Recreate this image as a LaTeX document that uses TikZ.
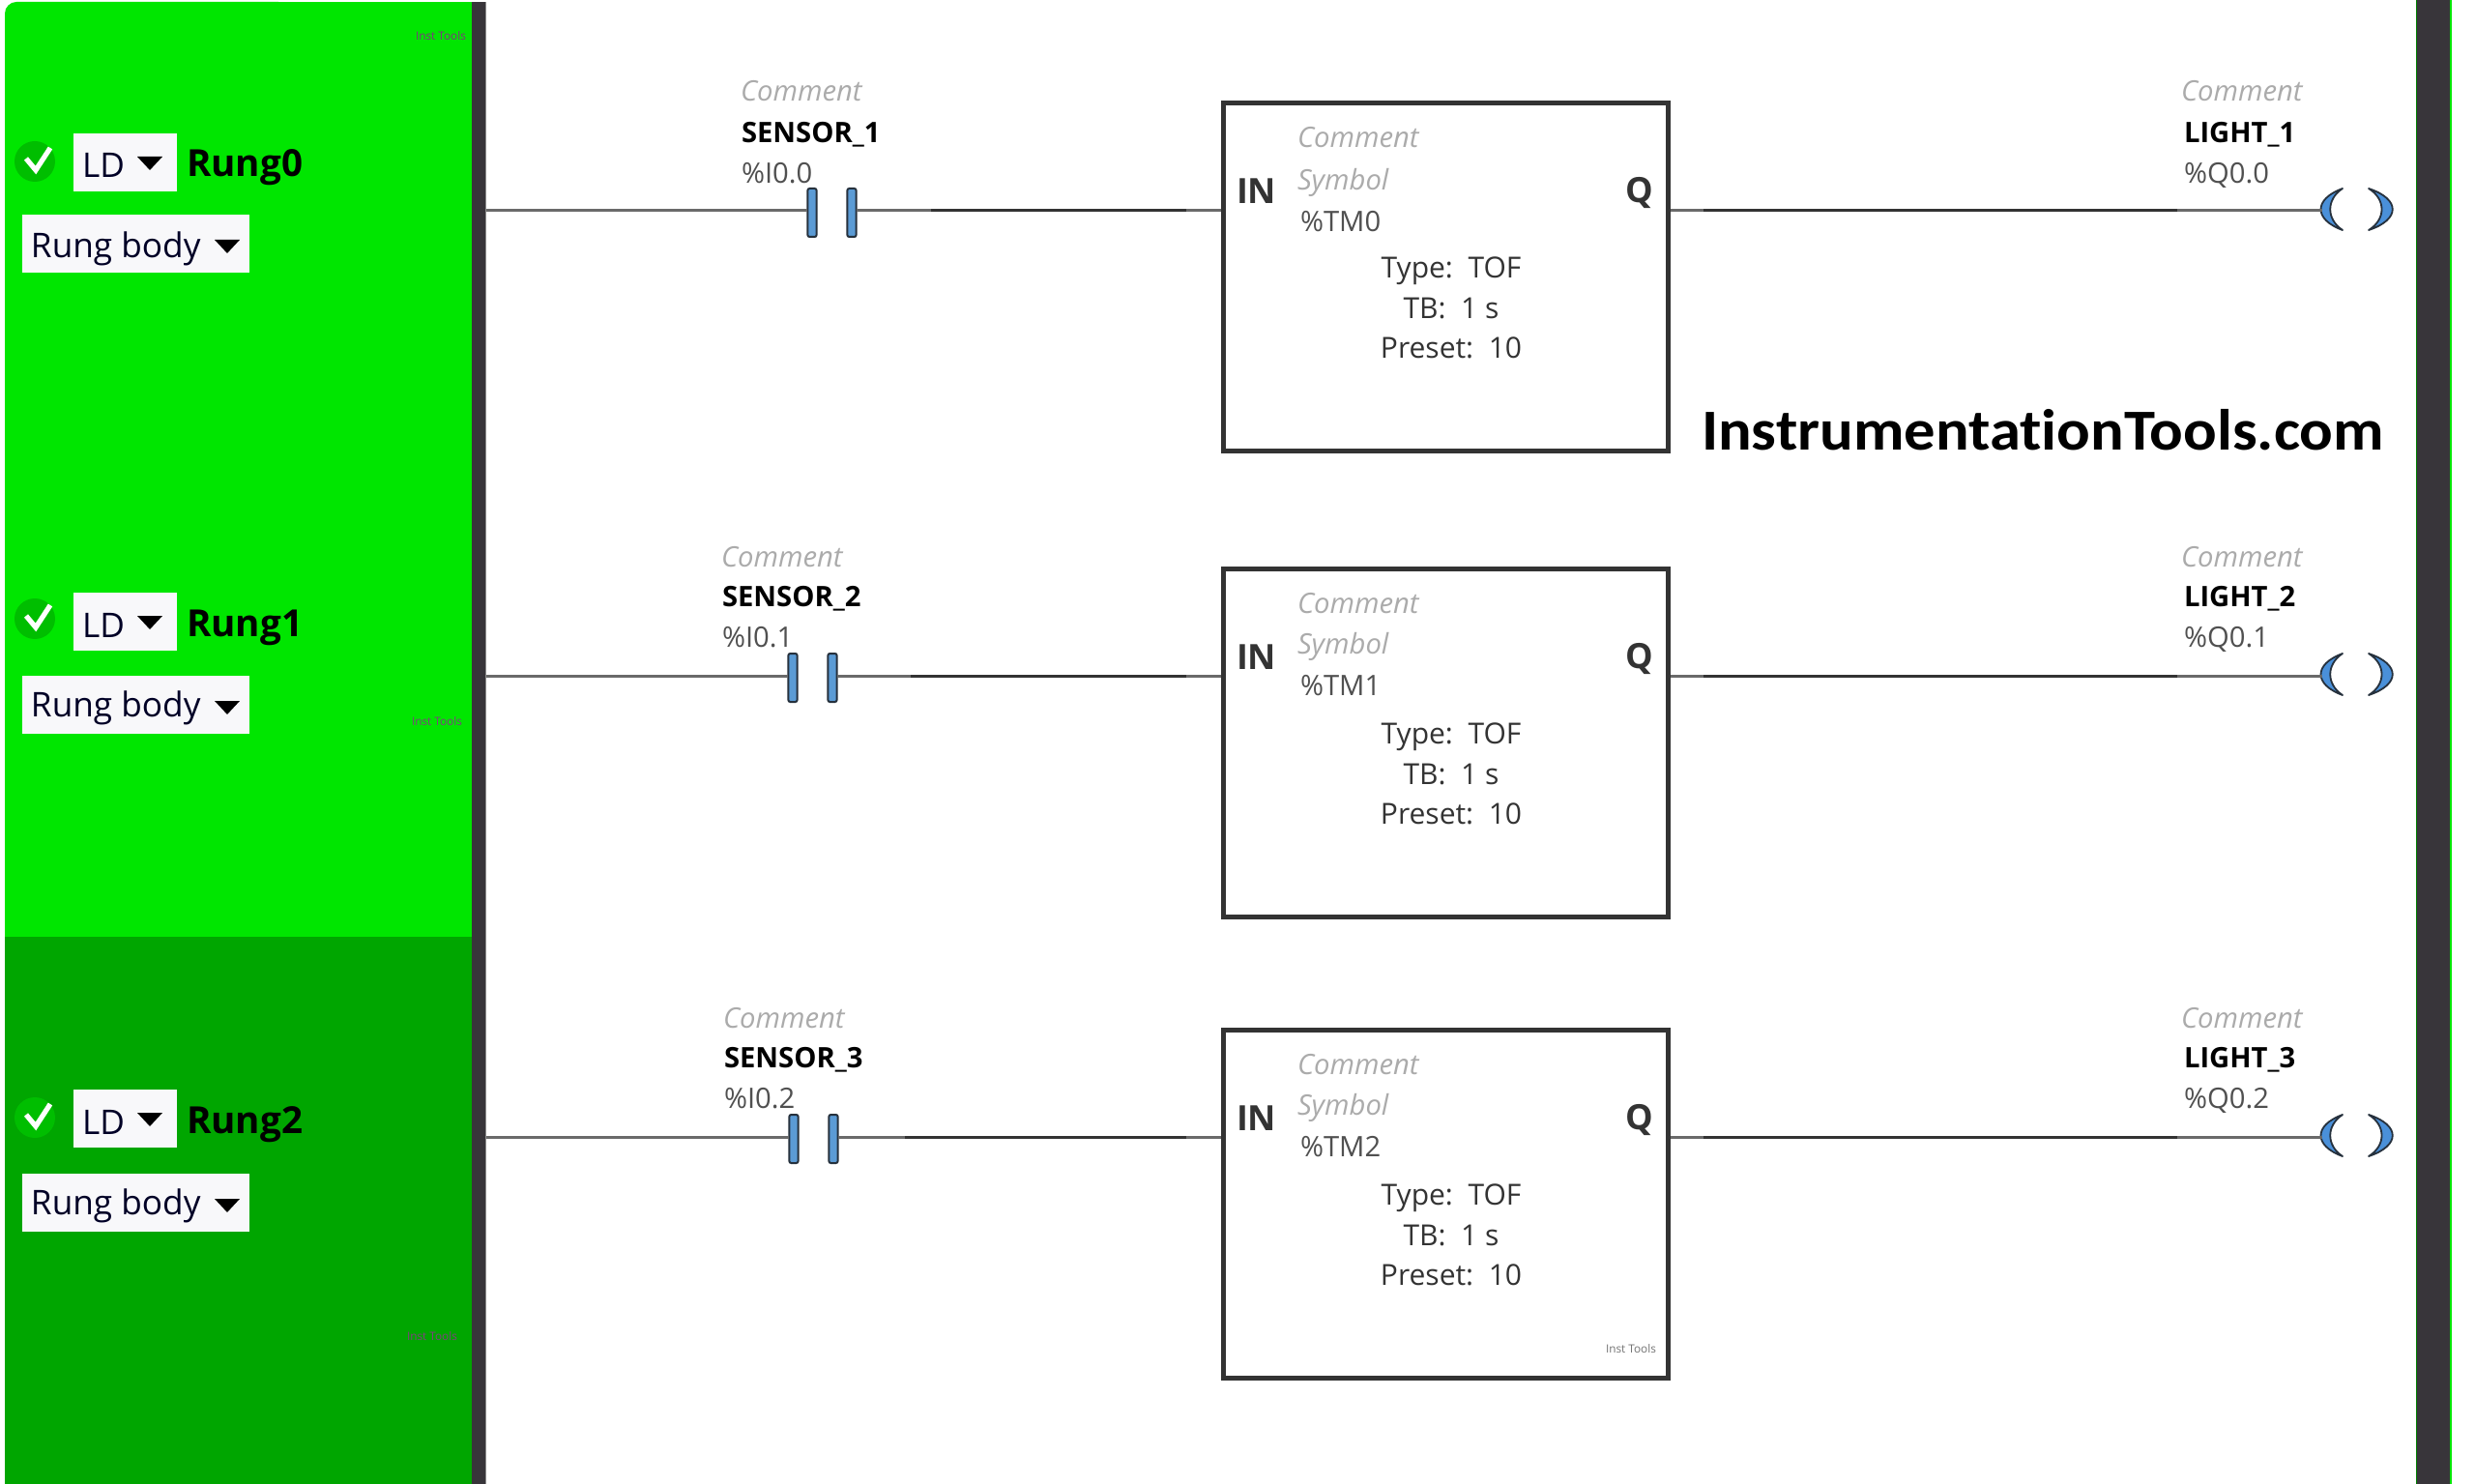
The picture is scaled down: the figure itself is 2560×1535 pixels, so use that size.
\documentclass[tikz,border=0pt]{standalone}
\usepackage{fontspec}
\setmainfont{Open Sans}
\newfontfamily\wmfont[FakeStretch=1.077,Ligatures=NoCommon,BoldFont={Carlito Bold}]{Carlito}
\definecolor{railc}{HTML}{38353A}
\definecolor{glight}{HTML}{00E600}
\definecolor{gdark}{HTML}{00A600}
\definecolor{chk}{HTML}{00BE00}
\definecolor{wirel}{HTML}{6A6A6A}
\definecolor{wired}{HTML}{333333}
\definecolor{contactb}{HTML}{5B9BD5}
\definecolor{coilb}{HTML}{4A90D9}
\definecolor{edgec}{HTML}{26313D}
\definecolor{cmt}{HTML}{ABABAB}
\definecolor{addr}{HTML}{505050}
\definecolor{ddw}{HTML}{F8F8FA}
\newcommand{\fsz}[1]{\fontsize{#1}{#1}\selectfont}
\tikzset{
  x=0.5pt,y=-0.5pt,
  lbl/.style={inner sep=0pt,outer sep=0pt,anchor=base west},
  cmtx/.style={lbl,text=cmt,font=\fsz{14.6}\itshape},
  namex/.style={lbl,text=black,font=\fsz{14.6}\bfseries},
  addrx/.style={lbl,text=addr,font=\fsz{14.6}},
  param/.style={inner sep=0pt,outer sep=0pt,anchor=base,text=wired,font=\fsz{15}},
  pin/.style={inner sep=0pt,outer sep=0pt,anchor=base west,text=wired,font=\fsz{18}\bfseries},
  tmrbox/.style={draw=wired,line width=2.5pt,fill=white,minimum width=230pt,minimum height=180pt,inner sep=0pt,outer sep=1.25pt},
  contactbar/.style={draw=edgec,fill=contactb,line width=1pt,rounded corners=1pt,minimum width=4.6pt,minimum height=25pt,inner sep=0pt,outer sep=0pt},
  wire/.style={draw=wirel,line width=1.5pt},
  wiredark/.style={draw=wired,line width=1.5pt},
  ddbox/.style={fill=ddw,inner sep=0pt,outer sep=0pt,minimum height=30pt},
  ddtext/.style={lbl,text=black!85!blue,font=\fsz{17.6}},
  ddtri/.style={fill=black},
  rungname/.style={lbl,text=black,font=\fsz{19.3}\bfseries},
  checkc/.style={circle,fill=chk,minimum size=21pt,inner sep=0pt,outer sep=0pt},
  checkm/.style={draw=white,line width=2.6pt},
  coilp/.style={fill=coilb,draw=edgec,line width=0.9pt,line join=round},
  wmsmall/.style={inner sep=0pt,outer sep=0pt,anchor=west,font=\fsz{5.9}},
}
\begin{document}
\begin{tikzpicture}
\useasboundingbox (0,0) rectangle (2560,1535);
\fill[white] (0,0) rectangle (2560,1535);
% left panel
\fill[glight,rounded corners=6pt] (5,2) rectangle (300,100);
\fill[glight] (100,2) rectangle (488,969);
\fill[glight] (5,40) rectangle (488,969);
\fill[gdark] (5,969) rectangle (488,1535);
\fill[railc] (488,2) rectangle (502,1535);
\fill[black!45] (501.5,2) rectangle (503,1535);
% right rail
\fill[black!50!green] (2499,0) rectangle (2500,1535);
\fill[railc] (2500,0) rectangle (2534,1535);
\fill[glight] (2534,0) rectangle (2535.5,1535);
% rungs
\foreach \i/\n/\y/\cx/\tx/\dk/\ly/\by/\ky/\bs/\tf in {
  0/1/218/840/766/963/168/252/167/15/0,
  1/2/699/820/746/942/643/729/640/12/2,
  2/3/1176/821/748/936/1157/1244/1156/12/2}{
  \coordinate (rail\i) at (503,\y);
  \coordinate (dka\i) at (\dk,\y);
  \coordinate (dkb\i) at (1227,\y);
  \coordinate (dkc\i) at (1762,\y);
  \coordinate (dkd\i) at (2252,\y);
  \coordinate (coil\i) at (2402,\y);
  % left widgets
  \node[checkc] (chk\i) at (36,\ky) {};
  \draw[checkm] ([shift={(-9,-3)}]chk\i.center) -- ([shift={(1,9)}]chk\i.center) -- ([shift={(16,-14)}]chk\i.center);
  \node[ddbox,minimum width=53.5pt] (ld\i) at (129,\ly) {};
  \node[lbl,ddtext] (ldt\i) at (85,\ly+16) {LD};
  \fill[ddtri] (142,\ly-6) -- (168,\ly-6) -- (155,\ly+8) -- cycle;
  \node[rungname] (rn\i) at (193,\ly+15) {Rung\i};
  \node[ddbox,minimum width=117.5pt] (rb\i) at (140,\by) {};
  \node[ddtext] (rbt\i) at (32,\by+\bs) {Rung body};
  \fill[ddtri] (222,\by-4) -- (248,\by-4) -- (235,\by+10) -- cycle;
  % contact
  \node[contactbar] (ca\i) at (\cx,\y+2) {};
  \node[contactbar] (cb\i) at (\cx+41,\y+2) {};
  \node[cmtx] (sc\i) at (\tx,\y-113) {Comment};
  \node[namex] (sn\i) at (\tx+1,\y-70-\tf) {SENSOR\_\n};
  \node[addrx] (sa\i) at (\tx+1,\y-28-\tf) {\%I0.\i};
  % timer
  \node[tmrbox] (tm\i) at (1495,\y+69) {};
  \node[cmtx] (tc\i) at (1342,\y-65) {Comment};
  \node[cmtx] (ts\i) at (1342,\y-21-\tf) {Symbol};
  \node[addrx] (ta\i) at (1345,\y+22-\tf) {\%TM\i};
  \node[pin] (in\i) at (1279,\y-7) {IN};
  \node[pin] (qq\i) at (1681,\y-8) {Q};
  \node[param] (pt\i) at (1501,\y+70) {Type:\ \ TOF};
  \node[param] (pb\i) at (1501,\y+112) {TB:\ \ 1 s};
  \node[param] (pp\i) at (1501,\y+153) {Preset:\ \ 10};
  % coil
  \node[cmtx] (lc\i) at (2256,\y-113) {Comment};
  \node[namex] (ln\i) at (2259,\y-70-\tf) {LIGHT\_\n};
  \node[addrx] (la\i) at (2259,\y-28-\tf) {\%Q0.\i};
  \fill[coilp] (2423,\y-23) .. controls (2393,\y-12) and (2393,\y+9) .. (2423,\y+20)
     .. controls (2406,\y+9) and (2406,\y-12) .. cycle;
  \fill[coilp] (2450,\y-23) .. controls (2483,\y-12) and (2483,\y+9) .. (2450,\y+20)
     .. controls (2468,\y+9) and (2468,\y-12) .. cycle;
  % wires
  \draw[wire] (rail\i) -- (rail\i -| ca\i.west);
  \draw[wire] (cb\i.east |- rail\i) -- (tm\i.west |- rail\i);
  \draw[wire] (tm\i.east |- rail\i) -- (coil\i);
  \draw[wiredark] (dka\i) -- (dkb\i);
  \draw[wiredark] (dkc\i) -- (dkd\i);
}
\node[inner sep=0pt,outer sep=0pt,anchor=base west,font=\fsz{30}\wmfont\bfseries] (wm) at (1760,466) {InstrumentationTools.com};
\node[wmsmall,text=violet!60!gray] (w0) at (430,37) {Inst Tools};
\node[wmsmall,text=violet!50!gray] (w1) at (426,746) {Inst Tools};
\node[wmsmall,text=violet!50!gray] (w2) at (421,1382) {Inst Tools};
\node[wmsmall,text=black!55] (w3) at (1661,1395) {Inst Tools};
\end{tikzpicture}
\end{document}
